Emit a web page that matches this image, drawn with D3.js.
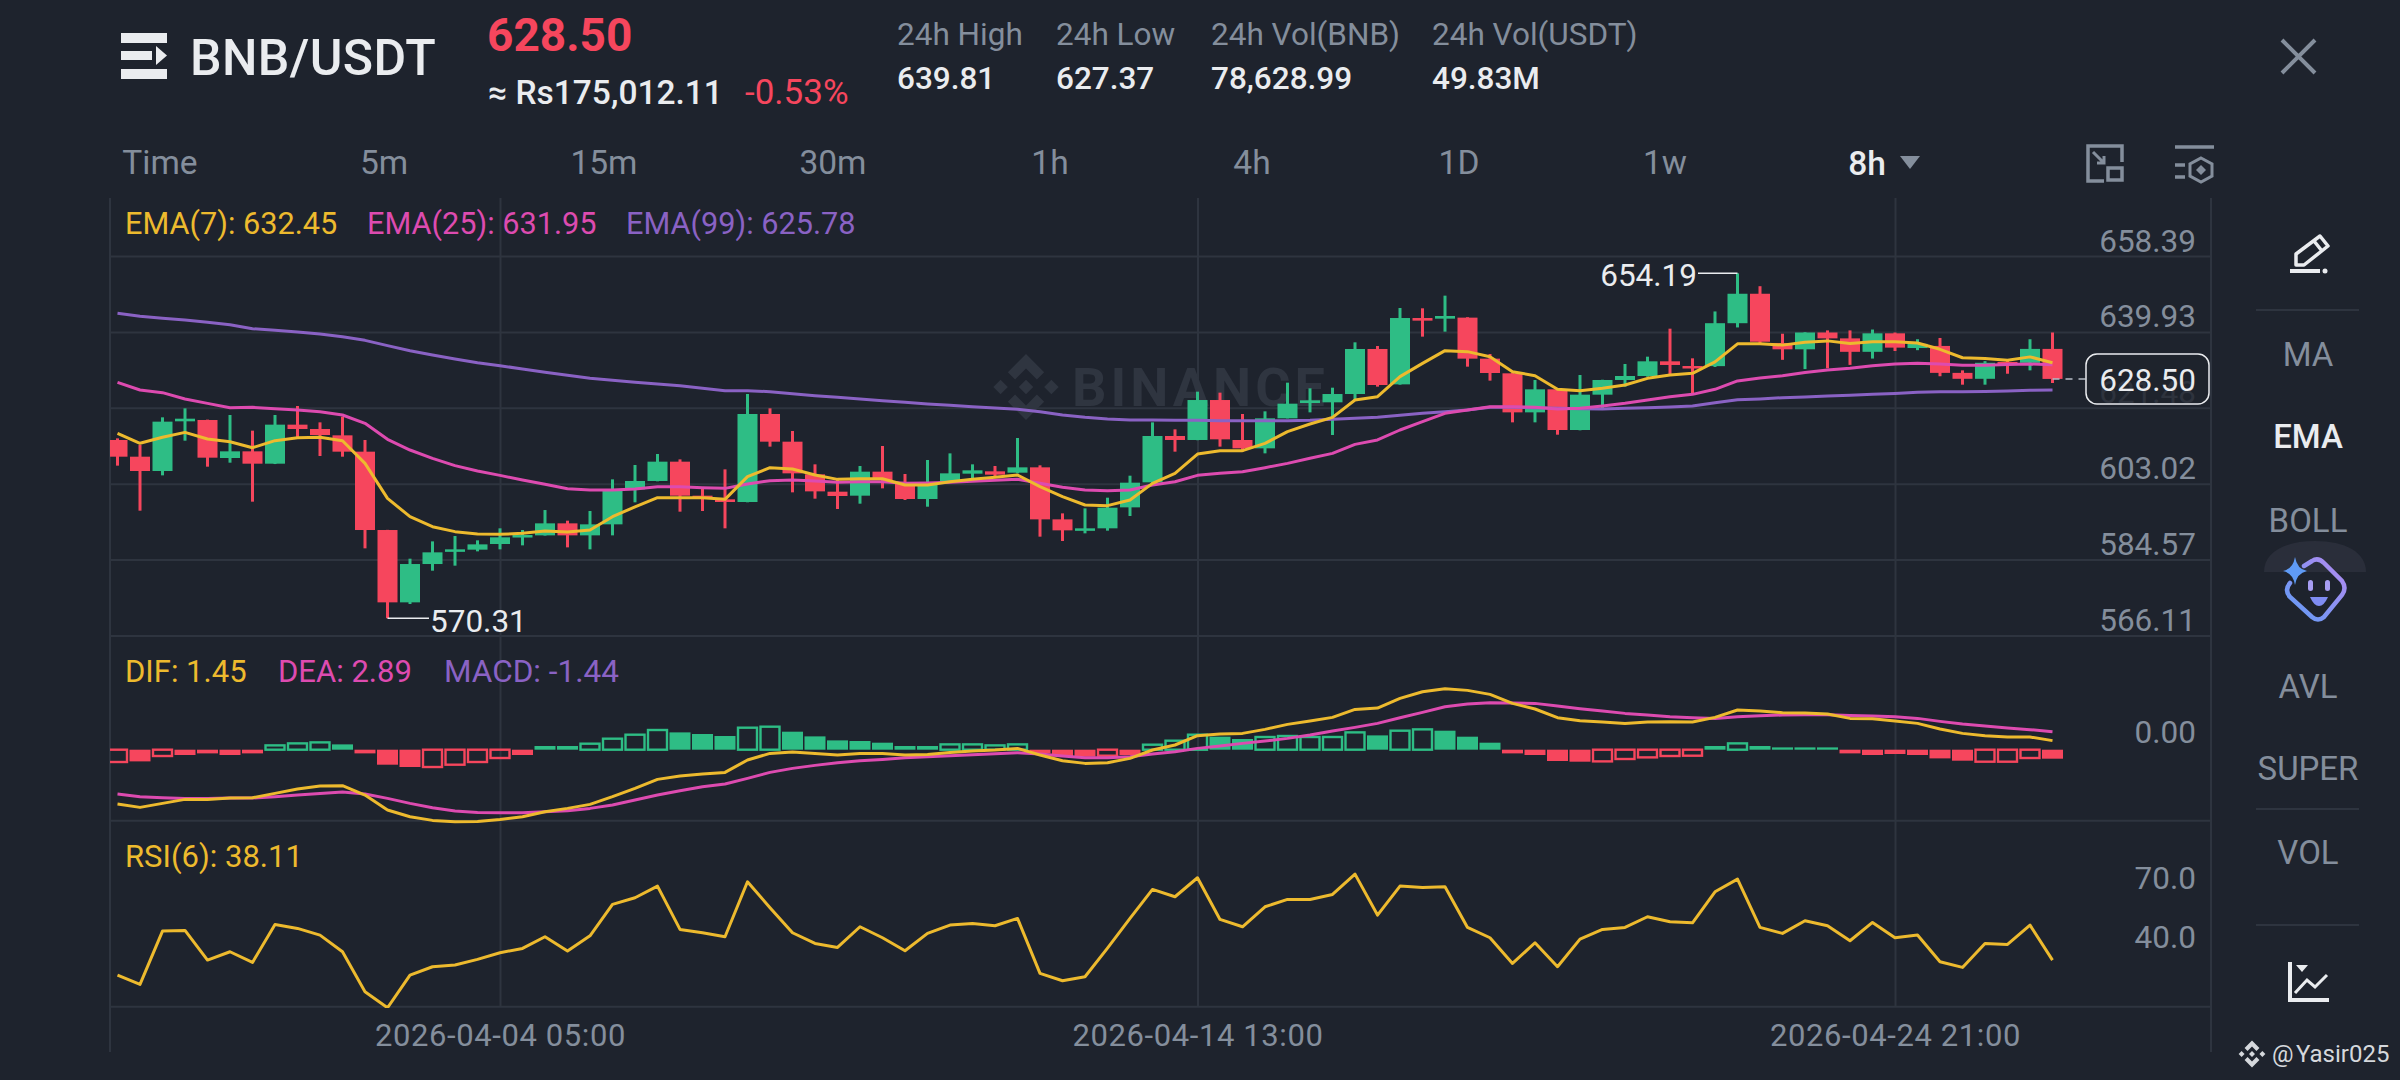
<!DOCTYPE html>
<html>
<head>
<meta charset="utf-8">
<script src="https://cdn.jsdelivr.net/npm/d3@7"></script>
<style>
html, body { margin: 0; padding: 0; background: #1e232d; }
svg { display: block; }
text { font-family: Roboto, sans-serif; }
</style>
</head>
<body>
<svg width="2400" height="1080"></svg>
<script>
// candles, 8h, oldest first
var opens = [
  613.65, 609.59, 606.11, 618.19, 618.51, 609.27, 610.89, 607.89, 617.38, 616.32,
  614.78, 610.81, 591.76, 574.17, 583.49, 586.57, 586.98, 588.36, 589.98, 590.46,
  593.38, 590.46, 593.14, 601.65, 603.68, 608.38, 600.11, 599.22, 598.57, 619.97,
  613.24, 605.3, 601.08, 600.11, 605.95, 603.27, 599.3, 603.51, 605.46, 606.03,
  605.7, 607, 594.35, 591.6, 592.17, 597.27, 603.35, 614.62, 613.65, 623.37,
  613.65, 611.62, 618.92, 622.64, 622.81, 624.83, 635.78, 627.18, 643.31, 643.15,
  643.4, 633.43, 629.86, 620.37, 625.97, 616.08, 624.67, 628.24, 629.21, 632.78,
  631.64, 631.61, 642.05, 649.21, 637.23, 635.7, 639.79, 638.36, 635.09, 639.59,
  636.01, 636.52, 629.97, 628.53, 632.63, 632.42, 635.8];
var highs = [
  614.05, 612.43, 619.16, 621.35, 618.6, 619.73, 615.92, 619.73, 621.91, 617.94,
  619.32, 613.65, 591.8, 584.79, 589, 590.3, 589.25, 592.17, 591.76, 596.62,
  594.03, 596.38, 604.08, 607.57, 610.24, 608.94, 601.81, 606.51, 624.83, 621.35,
  615.83, 607.73, 604.08, 607.32, 612.19, 605.38, 608.78, 610.4, 607.73, 607.32,
  614.13, 607.49, 595.81, 597.03, 599.62, 604.97, 617.94, 616.24, 625.4, 625.16,
  619.97, 620.62, 627.59, 626.21, 626.37, 637.4, 636.51, 645.75, 645.67, 648.75,
  643.5, 634.56, 629.9, 628.24, 626, 629.45, 628.3, 632.13, 633.91, 640.72,
  633.51, 644.91, 654.19, 651.05, 639.49, 639.85, 640.3, 640.3, 640.51, 639.79,
  638.15, 638.46, 630.58, 632.83, 633.14, 638.15, 639.79];
var lows = [
  607.41, 596.46, 605.05, 613.48, 607.16, 608.13, 598.65, 607.8, 614.3, 609.76,
  609.59, 587.3, 570.31, 573.77, 581.87, 583.09, 586.57, 587.06, 588.03, 590.4,
  587.54, 587.06, 590.46, 598.49, 603.6, 596.22, 596.38, 592.17, 598.5, 612.03,
  600.92, 599.38, 596.87, 598.16, 601.89, 599.06, 597.43, 603.5, 604.32, 604.73,
  605.54, 590.14, 589.09, 590.95, 591.6, 595.17, 603.11, 610.81, 613.6, 612.03,
  610.81, 610.4, 618.9, 620.37, 614.86, 623.37, 626.62, 627.1, 638.78, 639.99,
  631.48, 628.08, 617.94, 617.94, 614.94, 616, 621.35, 626.62, 629.05, 629.45,
  624.59, 631.4, 641.02, 637.23, 633.14, 630.89, 631.09, 631.91, 633.45, 635.29,
  635.49, 629.15, 627.1, 627.1, 629.76, 630.58, 627.51];
var closes = [
  609.59, 606.11, 618.11, 618.83, 609.35, 610.89, 607.89, 617.38, 616.32, 614.86,
  610.81, 591.76, 574.17, 583.49, 586.33, 587.06, 588.27, 589.98, 590.54, 593.38,
  590.46, 593.14, 601.65, 603.68, 608.38, 600.11, 599.7, 598.57, 619.97, 613.24,
  605.54, 601.16, 600.03, 605.95, 603.92, 599.3, 603.11, 605.54, 606.27, 605.22,
  607, 594.35, 591.68, 592.17, 597.19, 603.27, 614.62, 613.65, 623.37, 613.81,
  611.62, 618.92, 622.48, 623.29, 624.83, 635.78, 627.02, 643.31, 642.67, 643.8,
  633.43, 629.94, 620.37, 625.97, 616.08, 624.67, 628.24, 629.21, 632.78, 631.89,
  631.07, 642.05, 649.21, 637.54, 635.7, 639.79, 638.36, 635.09, 639.59, 636.11,
  637.03, 629.97, 628.53, 632.42, 631.91, 635.8, 628.5];
var ema7 = [
  615.27, 612.84, 614.3, 615.51, 613.89, 613.24, 611.78, 613.48, 614.21, 614.3,
  613.48, 607.97, 599.46, 595, 592.57, 591.36, 590.79, 590.71, 590.95, 591.52,
  591.27, 591.76, 595, 597.4, 599.62, 599.62, 599.62, 599.22, 604.73, 606.92,
  606.59, 605.14, 604.08, 604.24, 604.24, 602.7, 602.7, 603.51, 604.08, 604.57,
  605.14, 602.3, 599.87, 597.84, 597.68, 599.06, 603.11, 605.54, 610.24, 611.05,
  611.05, 612.84, 615.67, 617.54, 619.16, 623.37, 624.18, 629.05, 632.29, 635.37,
  635.13, 633.91, 630.26, 629.29, 625.97, 625.64, 626.21, 627.02, 628.64, 629.45,
  629.86, 632.63, 637.03, 637.03, 636.72, 637.44, 637.75, 637.13, 637.54, 637.54,
  637.23, 635.7, 633.65, 633.45, 633.04, 633.86, 632.45];
var ema25 = [
  627.67, 625.81, 625.16, 623.62, 622.56, 621.51, 621.59, 621.27, 620.94, 620.54,
  619.73, 617.7, 613.81, 611.21, 609.19, 607.41, 606.11, 605.05, 603.92, 602.87,
  601.81, 601.49, 601.49, 601.73, 602.3, 602.3, 602.05, 601.89, 602.95, 603.76,
  603.92, 603.68, 603.35, 603.51, 603.51, 603.11, 603.19, 603.35, 603.6, 603.84,
  604.08, 603.11, 602.14, 601.49, 601.33, 601.49, 602.7, 603.51, 605.05, 605.54,
  605.95, 606.92, 607.97, 609.19, 610.4, 612.59, 613.65, 616.08, 618.11, 620.13,
  620.94, 621.75, 621.75, 621.59, 621.19, 621.35, 621.91, 622.56, 623.37, 624.18,
  624.75, 625.98, 628.02, 628.74, 629.25, 630.07, 630.68, 631.09, 631.71, 632.12,
  632.32, 632.12, 631.81, 631.81, 632.01, 632.12, 631.95];
var ema99 = [
  644.45, 643.72, 643.23, 642.83, 642.26, 641.69, 640.72, 640.32, 639.91, 639.42,
  638.78, 637.88, 636.59, 635.37, 634.32, 633.34, 632.45, 631.72, 630.91, 630.1,
  629.37, 628.64, 628.16, 627.67, 627.26, 626.86, 626.21, 625.64, 625.64, 625.4,
  624.91, 624.43, 624.02, 623.62, 623.21, 622.81, 622.4, 622.08, 621.75, 621.43,
  621.1, 620.54, 619.73, 619.16, 618.75, 618.51, 618.51, 618.43, 618.43, 618.35,
  618.35, 618.35, 618.35, 618.43, 618.67, 618.92, 619.16, 619.64, 620.13, 620.54,
  620.94, 621.59, 621.59, 621.51, 621.35, 621.27, 621.19, 621.35, 621.51, 621.67,
  621.91, 622.7, 623.42, 623.62, 623.93, 624.13, 624.34, 624.54, 624.75, 624.95,
  625.26, 625.36, 625.36, 625.46, 625.57, 625.77, 625.78];
var dif = [
  -8.69, -9.23, -8.59, -7.95, -7.95, -7.73, -7.68, -6.99, -6.29, -5.81,
  -5.76, -7.25, -9.65, -10.72, -11.31, -11.52, -11.47, -11.15, -10.72, -9.92,
  -9.39, -8.75, -7.52, -6.19, -4.75, -4.21, -3.89, -3.63, -1.65, -0.59,
  -0.37, -0.59, -0.85, -0.59, -0.59, -0.85, -0.75, -0.43, -0.21, -0.05,
  0.21, -0.85, -1.76, -2.19, -2.08, -1.39, -0.05, 0.75, 2.24, 2.51,
  2.61, 3.25, 4.05, 4.59, 5.17, 6.45, 6.67, 8.21, 9.28, 9.76,
  9.49, 8.85, 7.41, 6.51, 5.12, 4.64, 4.43, 4.21, 4.43, 4.48,
  4.43, 5.17, 6.35, 6.19, 5.92, 5.87, 5.71, 5.01, 4.96, 4.59,
  4.21, 3.31, 2.61, 2.24, 2.03, 2.03, 1.45];
var dea = [
  -7.09, -7.52, -7.68, -7.79, -7.79, -7.73, -7.73, -7.52, -7.25, -6.99,
  -6.77, -7.09, -7.79, -8.59, -9.28, -9.81, -10.03, -10.08, -10.08, -9.92,
  -9.76, -9.39, -8.85, -8.05, -7.25, -6.56, -5.92, -5.49, -4.59, -3.63,
  -2.99, -2.51, -2.08, -1.76, -1.55, -1.28, -1.12, -0.96, -0.8, -0.64,
  -0.48, -0.69, -1.01, -1.28, -1.28, -1.12, -0.69, -0.32, 0.21, 0.59,
  1.01, 1.39, 1.81, 2.35, 2.99, 3.57, 4.21, 5.12, 5.97, 6.88,
  7.31, 7.52, 7.47, 7.41, 6.99, 6.56, 6.19, 5.81, 5.55, 5.28,
  5.12, 5.01, 5.28, 5.44, 5.55, 5.6, 5.6, 5.49, 5.39, 5.28,
  5.01, 4.53, 4.11, 3.79, 3.47, 3.2, 2.89];
var macd = [
  -1.97, -1.87, -1.01, -0.85, -0.59, -0.85, -0.59, 0.69, 1.01, 1.17,
  0.85, -0.59, -2.4, -2.77, -2.77, -2.4, -1.97, -1.33, -0.85, 0.59,
  0.59, 0.96, 1.76, 2.4, 3.15, 2.77, 2.51, 2.19, 3.52, 3.68,
  2.88, 2.13, 1.49, 1.39, 1.12, 0.59, 0.59, 0.85, 0.85, 0.69,
  0.85, -0.59, -1.07, -1.12, -0.96, -0.85, 0.8, 1.44, 2.4, 2.08,
  1.71, 2.03, 2.19, 2.03, 2.03, 2.77, 2.29, 3.04, 3.25, 3.04,
  2.08, 1.12, -0.59, -0.85, -1.81, -1.92, -1.87, -1.49, -1.23, -1.01,
  -0.96, 0.59, 1.01, 0.59, 0.37, 0.37, 0.37, -0.59, -0.85, -0.69,
  -0.85, -1.39, -1.76, -1.92, -1.92, -1.33, -1.44];
// bars drawn as outline instead of filled
var macdHollow = [0, 2, 7, 8, 9, 14, 15, 16, 17, 21, 22, 23, 24, 28, 29, 37, 38, 39, 40, 44,
  46, 47, 48, 51, 52, 53, 54, 55, 57, 58, 66, 67, 68, 69, 70, 72, 83, 84, 85];
var rsi = [
  30.48, 25.74, 52.86, 53.2, 38.11, 42.35, 36.92, 56.25, 54.21, 50.82,
  42.35, 22.01, 13.87, 30.48, 34.72, 35.57, 38.45, 41.84, 44.04, 49.98,
  42.69, 50.48, 66.42, 69.81, 75.74, 53.7, 52.01, 49.98, 77.94, 64.72,
  52.01, 46.59, 44.55, 55.06, 49.47, 42.86, 51.67, 55.91, 56.76, 55.57,
  59.3, 31.33, 27.6, 29.63, 44.21, 59.3, 74.04, 70.32, 79.98, 58.79,
  55.06, 65.23, 68.96, 68.96, 71.5, 81.84, 60.99, 75.74, 75.06, 75.4,
  54.72, 49.47, 36.41, 46.92, 34.72, 48.79, 53.7, 54.72, 60.15, 57.6,
  57.09, 72.86, 79.3, 54.72, 51.67, 58.11, 55.57, 47.94, 57.26, 49.47,
  50.82, 37.26, 34.38, 46.59, 46.08, 55.91, 38.11];

var priceTicks = [658.39, 639.93, 621.48, 603.02, 584.57, 566.11];
var timeTickIdx = [17, 48, 79];
var timeTicks = ['2026-04-04 05:00', '2026-04-14 13:00', '2026-04-24 21:00'];
var tabs = ['Time', '5m', '15m', '30m', '1h', '4h', '1D', '1w'];
var tabX = [160, 384, 604, 833, 1050, 1252, 1459, 1665];
var statNames = ['24h High', '24h Low', '24h Vol(BNB)', '24h Vol(USDT)'];
var statVals = ['639.81', '627.37', '78,628.99', '49.83M'];
var statX = [897, 1056, 1211, 1432];
var sideNames = ['MA', 'EMA', 'BOLL', 'AVL', 'SUPER', 'VOL'];
var sideY = [354, 436, 520, 686, 768, 852];

var GREEN = '#2ebd85', RED = '#f6465d';
var C7 = '#edba2e', C25 = '#dd4bb0', C99 = '#8a62c4';
var GRAY = '#848e9c', WHITE = '#eaecef', GRID = '#2e343f';

var LEFT = 110, RIGHT = 2211;
var svgctrl = d3.select('svg');

var x = d3.scaleLinear().domain([0, 86]).range([117.5, 2052.5]);
var y = d3.scaleLinear().domain([566.11, 658.39]).range([635.5, 256]);
var yMacd = d3.scaleLinear().domain([-11.36, 18.27]).range([820.7, 635.5]);
var yRsi = d3.scaleLinear().domain([14.4, 109]).range([1006.7, 820.7]);

function label(parent, tx, ty, str, color, size, anchor, weight) {
    return parent.append('text').attr('x', tx).attr('y', ty).attr('dy', '0.35em')
        .attr('fill', color).attr('font-size', size)
        .attr('text-anchor', anchor || 'start').attr('font-weight', weight || 400).text(str);
}

function binanceLogo(parent, cx, cy, s, color) {
    var g = parent.append('g').attr('transform', 'translate(' + cx + ',' + cy + ') scale(' + s + ')').attr('fill', color);
    g.append('path').attr('d', 'M0,-10 L5.5,-4.5 L3.3,-2.3 L0,-5.6 L-3.3,-2.3 L-5.5,-4.5 Z');
    g.append('path').attr('d', 'M0,10 L5.5,4.5 L3.3,2.3 L0,5.6 L-3.3,2.3 L-5.5,4.5 Z');
    g.append('path').attr('d', 'M-7.7,-2.2 L-5.5,0 L-7.7,2.2 L-9.9,0 Z');
    g.append('path').attr('d', 'M7.7,-2.2 L5.5,0 L7.7,2.2 L9.9,0 Z');
    g.append('path').attr('d', 'M0,-2.2 L2.2,0 L0,2.2 L-2.2,0 Z');
}

// header
var head = svgctrl.append('g');
head.append('rect').attr('x', 121).attr('y', 33).attr('width', 46).attr('height', 10).attr('fill', WHITE);
head.append('rect').attr('x', 121).attr('y', 69).attr('width', 46).attr('height', 10).attr('fill', WHITE);
head.append('rect').attr('x', 121).attr('y', 51).attr('width', 31).attr('height', 9).attr('fill', WHITE);
head.append('path').attr('d', 'M156,46 L167,55.5 L156,65 Z').attr('fill', WHITE);
label(head, 190, 57, 'BNB/USDT', WHITE, 50, 'start', 500).attr('letter-spacing', 0.4);
label(head, 487, 35, '628.50', RED, 46, 'start', 700);
label(head, 488, 92, '≈ Rs175,012.11', WHITE, 33.5, 'start', 500);
label(head, 745, 92, '-0.53%', RED, 35, 'start', 400);
statNames.forEach(function (s, i) {
    label(head, statX[i], 34, s, GRAY, 31.5);
    label(head, statX[i], 78, statVals[i], WHITE, 31.5, 'start', 500);
});
head.append('path').attr('d', 'M2282,40 L2315,73 M2315,40 L2282,73').attr('stroke', GRAY).attr('stroke-width', 4).attr('fill', 'none');

// tabs row
tabs.forEach(function (s, i) {
    label(head, tabX[i], 162, s, GRAY, 33.5, 'middle');
});
label(head, 1867, 163, '8h', WHITE, 33.5, 'middle', 500);
head.append('path').attr('d', 'M1900,156 H1920 L1910,169 Z').attr('fill', GRAY);
head.append('path').attr('d', 'M2104,181 H2088 V146 H2122 V162').attr('fill', 'none').attr('stroke', GRAY).attr('stroke-width', 3.5);
head.append('rect').attr('x', 2108).attr('y', 168).attr('width', 14).attr('height', 12).attr('fill', 'none').attr('stroke', GRAY).attr('stroke-width', 3.5);
head.append('path').attr('d', 'M2093,152 L2104,163 M2104,156 V163 H2097').attr('fill', 'none').attr('stroke', GRAY).attr('stroke-width', 3);
head.append('path').attr('d', 'M2175,147 H2214 M2175,165 H2185 M2175,177 H2185').attr('fill', 'none').attr('stroke', GRAY).attr('stroke-width', 3.5);
head.append('path').attr('d', 'M2201,158 L2212,164 V176 L2201,182 L2190,176 V164 Z').attr('fill', 'none').attr('stroke', GRAY).attr('stroke-width', 3);
head.append('path').attr('d', 'M2201,165 L2206,170 L2201,175 L2196,170 Z').attr('fill', GRAY);

// frame and grid
var grid = svgctrl.append('g');
grid.append('line').attr('x1', LEFT).attr('x2', LEFT).attr('y1', 198).attr('y2', 1052).attr('stroke', GRID).attr('stroke-width', 2);
grid.append('line').attr('x1', RIGHT).attr('x2', RIGHT).attr('y1', 198).attr('y2', 1052).attr('stroke', GRID).attr('stroke-width', 2);

var priceAxis = d3.axisRight(y).tickValues(priceTicks).tickSize(RIGHT - LEFT).tickFormat(d3.format('.2f'));
var gp = grid.append('g').attr('transform', 'translate(' + LEFT + ',0)').call(priceAxis);
gp.select('.domain').remove();
gp.selectAll('line').attr('stroke', GRID).attr('stroke-width', 2);
gp.selectAll('text').attr('x', 2196 - LEFT).attr('dy', -5).attr('text-anchor', 'end')
    .attr('fill', GRAY).attr('font-size', 31.5).attr('font-family', 'Roboto, sans-serif');

var timeAxis = d3.axisBottom(x).tickValues(timeTickIdx).tickSize(-(1006.7 - 198))
    .tickFormat(function (d) { return timeTicks[timeTickIdx.indexOf(d)]; });
var gt = grid.append('g').attr('transform', 'translate(0,1006.7)').call(timeAxis);
gt.select('.domain').remove();
gt.selectAll('line').attr('stroke', GRID).attr('stroke-width', 2);
gt.selectAll('text').attr('y', 28).attr('dy', '0.35em').attr('fill', GRAY).attr('font-size', 31)
    .attr('letter-spacing', 0.6).attr('font-family', 'Roboto, sans-serif');

[820.7, 1006.7].forEach(function (py) {
    grid.append('line').attr('x1', LEFT).attr('x2', RIGHT).attr('y1', py).attr('y2', py).attr('stroke', GRID).attr('stroke-width', 2);
});

// watermark
binanceLogo(grid, 1026, 387, 3.3, '#2f3540');
label(grid, 1072, 387, 'BINANCE', '#2f3540', 54, 'start', 700).attr('letter-spacing', 4);

svgctrl.append('clipPath').attr('id', 'plot').append('rect')
    .attr('x', LEFT).attr('y', 198).attr('width', RIGHT - LEFT).attr('height', 810);
var plot = svgctrl.append('g').attr('clip-path', 'url(#plot)');

// candles
var idx = d3.range(opens.length);
function candleColor(i) { return closes[i] >= opens[i] ? GREEN : RED; }
plot.selectAll('line.wick').data(idx).enter().append('line').attr('class', 'wick')
    .attr('x1', function (i) { return x(i); }).attr('x2', function (i) { return x(i); })
    .attr('y1', function (i) { return y(highs[i]); }).attr('y2', function (i) { return y(lows[i]); })
    .attr('stroke', candleColor).attr('stroke-width', 3);
plot.selectAll('rect.body').data(idx).enter().append('rect').attr('class', 'body')
    .attr('x', function (i) { return x(i) - 10; }).attr('width', 20)
    .attr('y', function (i) { return y(Math.max(opens[i], closes[i])); })
    .attr('height', function (i) { return Math.max(2.5, Math.abs(y(opens[i]) - y(closes[i]))); })
    .attr('fill', candleColor);

function drawLine(vals, scale, color, width) {
    var gen = d3.line().x(function (d, i) { return x(i); }).y(function (d) { return scale(d); });
    plot.append('path').attr('d', gen(vals)).attr('fill', 'none').attr('stroke', color)
        .attr('stroke-width', width).attr('stroke-linejoin', 'round');
}
drawLine(ema99, y, C99, 3);
drawLine(ema25, y, C25, 3);
drawLine(ema7, y, C7, 3);

// macd bars
plot.selectAll('rect.macd').data(idx).enter().append('rect').attr('class', 'macd')
    .each(function (i) {
        var hollow = macdHollow.indexOf(i) >= 0;
        var color = macd[i] >= 0 ? GREEN : RED;
        var top = yMacd(Math.max(macd[i], 0)), bottom = yMacd(Math.min(macd[i], 0));
        d3.select(this)
            .attr('x', x(i) - (hollow ? 9.5 : 10.5)).attr('width', hollow ? 19 : 21)
            .attr('y', top).attr('height', bottom - top)
            .attr('fill', hollow ? 'none' : color)
            .attr('stroke', hollow ? color : 'none').attr('stroke-width', 2.4);
    });
drawLine(dea, yMacd, C25, 3);
drawLine(dif, yMacd, C7, 3);
drawLine(rsi, yRsi, C7, 3);

// high / low markers
var hiIdx = highs.indexOf(d3.max(highs)), loIdx = lows.indexOf(d3.min(lows));
var marks = svgctrl.append('g');
marks.append('path').attr('d', 'M' + x(loIdx) + ',' + y(lows[loIdx]) + ' H429')
    .attr('stroke', WHITE).attr('stroke-width', 1.5).attr('fill', 'none');
label(marks, 430, 621, d3.format('.2f')(lows[loIdx]), WHITE, 31.5);
marks.append('path').attr('d', 'M' + x(hiIdx) + ',' + y(highs[hiIdx]) + ' H1698')
    .attr('stroke', WHITE).attr('stroke-width', 1.5).attr('fill', 'none');
label(marks, 1697, 275, d3.format('.2f')(highs[hiIdx]), WHITE, 31.5, 'end');

// last price tag
var lastY = y(closes[closes.length - 1]);
marks.append('line').attr('x1', x(86)).attr('x2', 2086).attr('y1', lastY).attr('y2', lastY)
    .attr('stroke', '#b7bdc6').attr('stroke-width', 1.5).attr('stroke-dasharray', '7 6');
marks.append('rect').attr('x', 2086).attr('y', 354).attr('width', 123).attr('height', 50).attr('rx', 11)
    .attr('fill', '#1e232d').attr('fill-opacity', 0.85).attr('stroke', WHITE).attr('stroke-width', 1.5);
label(marks, 2196, 380, d3.format('.2f')(closes[closes.length - 1]), WHITE, 31.5, 'end', 400);

// panel values
var leg = svgctrl.append('g');
label(leg, 125, 223, 'EMA(7): 632.45', C7, 30.7);
label(leg, 367, 223, 'EMA(25): 631.95', C25, 30.7);
label(leg, 626, 223, 'EMA(99): 625.78', C99, 30.7);
label(leg, 125, 671, 'DIF: 1.45', C7, 31);
label(leg, 278, 671, 'DEA: 2.89', C25, 31);
label(leg, 444, 671, 'MACD: -1.44', C99, 31.5);
label(leg, 125, 856, 'RSI(6): 38.11', C7, 31);
label(leg, 2196, 732, '0.00', GRAY, 31.5, 'end');
label(leg, 2196, 878, '70.0', GRAY, 31.5, 'end');
label(leg, 2196, 937, '40.0', GRAY, 31.5, 'end');

// sidebar
var side = svgctrl.append('g');
sideNames.forEach(function (s, i) {
    label(side, 2308, sideY[i], s, s === 'EMA' ? WHITE : GRAY, 33, 'middle', s === 'EMA' ? 500 : 400)
        .attr('font-family', 'Lato, sans-serif');
});
[[310], [809], [925]].forEach(function (d) {
    side.append('line').attr('x1', 2256).attr('x2', 2359).attr('y1', d[0]).attr('y2', d[0]).attr('stroke', GRID).attr('stroke-width', 2);
});
side.append('path').attr('d', 'M2296,265 L2296,254 L2320,236 L2328,246 L2304,265 Z M2314,241 L2322,251')
    .attr('fill', 'none').attr('stroke', WHITE).attr('stroke-width', 3.5).attr('stroke-linejoin', 'round');
side.append('path').attr('d', 'M2290,271 H2320').attr('stroke', WHITE).attr('stroke-width', 4);
side.append('circle').attr('cx', 2325).attr('cy', 271).attr('r', 2.5).attr('fill', WHITE);
side.append('path').attr('d', 'M2264,572 C2264,552 2285,541 2315,541 C2345,541 2366,552 2366,572 Z').attr('fill', '#2a2e3a');

var grad = svgctrl.append('linearGradient').attr('id', 'bot').attr('x1', 0).attr('x2', 1).attr('y1', 1).attr('y2', 0);
grad.append('stop').attr('offset', 0).attr('stop-color', '#5f9bf5');
grad.append('stop').attr('offset', 1).attr('stop-color', '#b48af0');
side.append('path').attr('d', 'M2304,566 L2312,561 Q2318,557 2324,563 L2342,581 Q2347,588 2342,595 L2324,617 Q2318,622 2312,617 L2290,597 Q2284,590 2290,583')
    .attr('fill', 'none').attr('stroke', 'url(#bot)').attr('stroke-width', 4.5).attr('stroke-linecap', 'round');
side.append('path').attr('d', 'M2295,557 Q2297,569 2307,571 Q2297,573 2295,585 Q2293,573 2283,571 Q2293,569 2295,557 Z').attr('fill', '#5f9bf5');
side.append('rect').attr('x', 2308).attr('y', 580).attr('width', 5).attr('height', 11).attr('rx', 2.5).attr('fill', '#a79df2');
side.append('rect').attr('x', 2325).attr('y', 580).attr('width', 5).attr('height', 11).attr('rx', 2.5).attr('fill', '#a79df2');
side.append('path').attr('d', 'M2310,597 H2328 Q2324,606 2319,606 Q2314,606 2310,597 Z').attr('fill', '#7f8cf3');

side.append('path').attr('d', 'M2290,962 V1000 H2329').attr('fill', 'none').attr('stroke', WHITE).attr('stroke-width', 4);
side.append('path').attr('d', 'M2295,993 L2307,980 L2315,987 L2327,975').attr('fill', 'none').attr('stroke', WHITE).attr('stroke-width', 3);
side.append('path').attr('d', 'M2296,965 H2308 L2302,972 Z').attr('fill', WHITE);

// footer tag
binanceLogo(svgctrl, 2252, 1054, 1.35, '#d5d8dc');
label(svgctrl, 2272, 1054, '@', '#d5d8dc', 24, 'start').attr('font-family', '"Open Sans", sans-serif');
label(svgctrl, 2296, 1054, 'Yasir025', '#d5d8dc', 24, 'start').attr('font-family', '"Open Sans", sans-serif');
</script>
</body>
</html>
